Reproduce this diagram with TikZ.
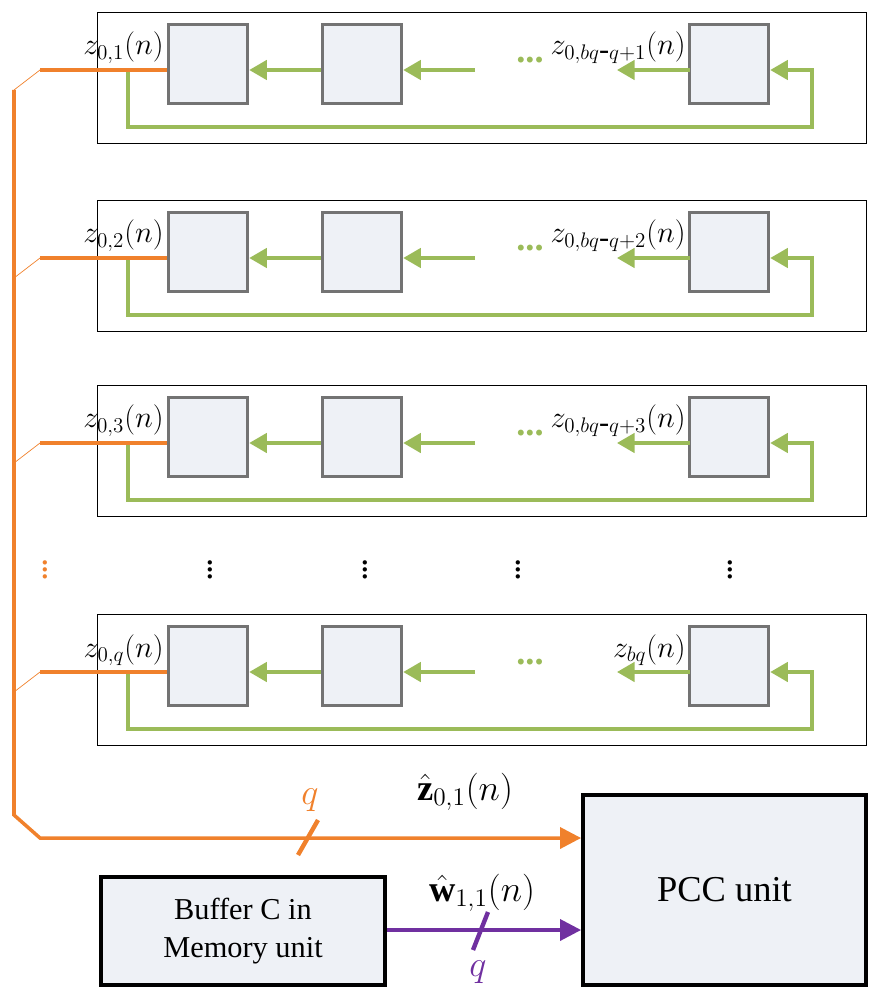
\documentclass[tikz,border=0pt]{standalone}
\usepackage{fontspec}
\setmainfont{Liberation Serif}
\usetikzlibrary{positioning,arrows.meta}
\definecolor{cOrange}{HTML}{F0812C}
\definecolor{cGreen}{HTML}{9BBB59}
\definecolor{cPurple}{HTML}{7030A0}
\definecolor{cFill}{HTML}{EEF1F6}
\begin{document}
\begin{tikzpicture}[x=0.02cm,y=-0.02cm,
    cell/.style={draw=gray!90!black, line width=2pt, fill=cFill, minimum width=1.58cm, minimum height=1.58cm, inner sep=0pt},
    frame/.style={draw=black, thin},
    garrow/.style={cGreen, line width=2pt, -{Triangle[length=10pt,width=11pt]}},
    oline/.style={cOrange, line width=2pt},
    unit/.style={draw=black, line width=2.2pt, fill=cFill, align=center, inner sep=0pt},
    lbl/.style={font=\LARGE, inner sep=0pt}
]
\useasboundingbox (0,0) rectangle (884,1000);

% Rows
\foreach \r/\dy/\lab/\rlab in {1/0/{z_{0,1}(n)}/{z_{0,bq\mbox{-}q+1}(n)},
                               2/188/{z_{0,2}(n)}/{z_{0,bq\mbox{-}q+2}(n)},
                               3/373/{z_{0,3}(n)}/{z_{0,bq\mbox{-}q+3}(n)},
                               4/602/{z_{0,q}(n)}/{z_{bq}(n)}} {
  \draw[frame] (97,12+\dy) rectangle (866,143+\dy);
  \node[cell] (b\r1) at (208,64+\dy) {};
  \node[cell] (b\r2) at (362,64+\dy) {};
  \node[cell] (b\r4) at (729,64+\dy) {};
  \coordinate (o\r) at (40,70+\dy);
  \coordinate (j\r) at (128,70+\dy);
  \coordinate (s\r) at (475,70+\dy);
  \coordinate (t\r) at (690,70+\dy);
  \coordinate (u\r) at (617,70+\dy);
  \coordinate (f\r) at (812,70+\dy);
  \draw[garrow] (b\r2.west |- j\r) -- (b\r1.east |- j\r);
  \draw[garrow] (s\r) -- (b\r2.east |- s\r);
  \draw[garrow] (t\r) -- (u\r);
  \draw[garrow] (j\r) -- ++(0,57) -| (f\r) -- (b\r4.east |- f\r);
  \draw[oline] (o\r) -- (b\r1.west |- o\r);
  \node[cGreen, font=\huge\bfseries] (d\r) at (530,60+\dy) {...};
  \node[lbl, anchor=south east] (l\r) at (164,64+\dy) {$\lab$};
  \node[lbl, anchor=south east] (m\r) at (686,64+\dy) {$\rlab$};
}

% vertical dots
\foreach \x/\c in {45/cOrange,210/black,365/black,518/black,730/black}
  \node[\c, font=\huge, inner sep=0pt] at (\x,565) {$\vdots$};

% Bottom units
\node[unit, minimum width=5.66cm, minimum height=3.8cm, font=\huge] (pcc) at (724.5,890) {PCC unit};
\node[unit, minimum width=5.68cm, minimum height=2.16cm, font=\LARGE] (buf) at (243,931) {Buffer C in\\Memory unit};

% Orange bus
\coordinate (top) at (14,90);
\coordinate (bot) at (14,815);
\coordinate (bend) at (40,838);
\draw[cOrange, thin] (o1) -- (14,90);
\draw[cOrange, thin] (o2) -- (14,278);
\draw[cOrange, thin] (o3) -- (14,463);
\draw[cOrange, thin] (o4) -- (14,692);
\draw[oline, -{Triangle[length=12pt,width=12pt]}] (top) -- (bot) -- (bend) -- (pcc.west |- bend);
\draw[cOrange, line width=2.5pt] (298,855) -- (318,820);
\node[cOrange, font=\huge] (qo) at (310,800) {$q$};
\node[font=\huge] (zh) at (465,792) {$\hat{\mathbf{z}}_{0,1}(n)$};

% Purple link
\draw[cPurple, line width=2pt, -{Triangle[length=12pt,width=12pt]}] (buf.east |- 0,930) -- (pcc.west |- 0,930);
\draw[cPurple, line width=2.5pt] (473,950) -- (488,912);
\node[font=\huge] (wh) at (482,893) {$\hat{\mathbf{w}}_{1,1}(n)$};
\node[cPurple, font=\huge] (qp) at (478,972) {$q$};
\end{tikzpicture}
\end{document}
